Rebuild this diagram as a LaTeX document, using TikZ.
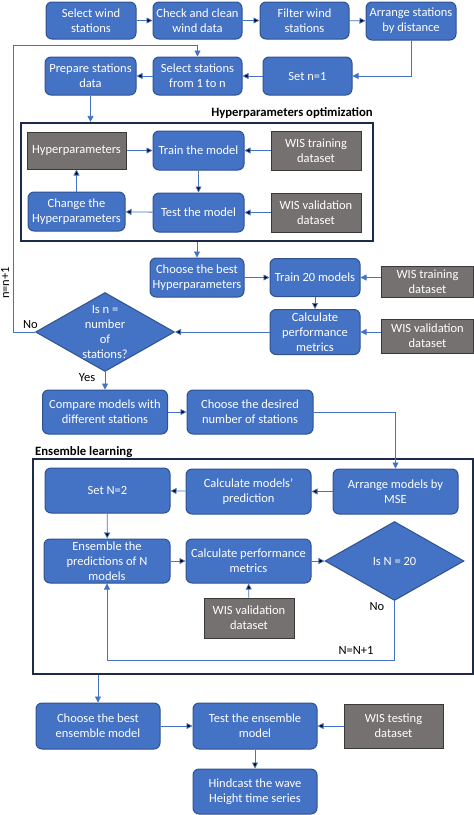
\documentclass[tikz,border=0pt]{standalone}
\usepackage{fontspec}
\setmainfont{Carlito}
\usetikzlibrary{arrows.meta,shapes.geometric,positioning}
\definecolor{boxblue}{HTML}{4472C4}
\definecolor{boxedge}{HTML}{2F528F}
\definecolor{datagray}{HTML}{767171}
\definecolor{dataedge}{HTML}{3B3838}
\definecolor{framenavy}{HTML}{1C2B4A}
\tikzset{
  wh/.style 2 args={minimum width=#1pt,minimum height=#2pt},
  process/.style={rectangle,rounded corners=6pt,draw=boxedge,fill=boxblue,
    line width=1pt,text=white,align=center,inner sep=1pt},
  dataset/.style={rectangle,draw=dataedge,fill=datagray,
    line width=1pt,text=white,align=center,inner sep=1pt},
  decision/.style={diamond,draw=boxedge,fill=boxblue,line width=1pt,
    text=white,align=center,inner sep=0pt,minimum width=139pt,minimum height=79pt},
  frame/.style={rectangle,draw=framenavy,line width=2.2pt},
  caption/.style={font=\fontsize{12.7}{15}\selectfont\bfseries,inner sep=0pt},
  note/.style={inner sep=0pt},
  flow/.style={draw=boxblue,line width=0.8pt,-{Triangle[length=6pt,width=6pt]}},
  chart/.style={x=1pt,y=-1pt,font=\fontsize{12.5}{15}\selectfont}
}
\begin{document}
\begin{tikzpicture}[chart]
  \useasboundingbox (0,0) rectangle (474,815);
  % stations
  \node[process,wh={90}{37}] (sel) at (91,20.5) {Select wind\\stations};
  \node[process,wh={89}{37}] (chk) at (197.5,20.5) {Check and clean\\wind data};
  \node[process,wh={89}{37}] (fil) at (304.5,20.5) {Filter wind\\stations};
  \node[process,wh={90}{38}] (arr) at (411,21) {Arrange stations\\by distance};
  \node[process,wh={91}{38}] (prep) at (90.5,76) {Prepare stations\\data};
  \node[process,wh={89}{38}] (selst) at (197.5,76) {Select stations\\from 1 to n};
  \node[process,wh={89}{38}] (setn) at (307.5,76) {Set n=1};
  % hyperparameters optimization
  \node[frame,wh={352}{118}] (hbox) at (197,182) {};
  \node[caption,anchor=base east] (htitle) at (373,116) {Hyperparameters optimization};
  \node[dataset,wh={99}{37}] (hyp) at (76.5,150.5) {Hyperparameters};
  \node[process,wh={91}{39}] (train) at (198.5,150.5) {Train the model};
  \node[dataset,wh={90}{39}] (wistr1) at (316,150.5) {WIS training\\dataset};
  \node[process,wh={97}{39}] (chg) at (76.5,211.5) {Change the\\Hyperparameters};
  \node[process,wh={91}{39}] (test) at (198.5,212.5) {Test the model};
  \node[dataset,wh={90}{39}] (wisv1) at (316,212.5) {WIS validation\\dataset};
  \node[process,wh={94}{39}] (best) at (197,277.5) {Choose the best\\Hyperparameters};
  \node[process,wh={90}{38}] (tr20) at (315,277.5) {Train 20 models};
  \node[dataset,wh={92}{31}] (wistr2) at (427.5,281.5) {WIS training\\dataset};
  \node[process,wh={90}{45}] (calc) at (315,332) {Calculate\\performance\\metrics};
  \node[dataset,wh={92}{34}] (wisv2) at (427.5,336) {WIS validation\\dataset};
  \node[decision,label={[text=white,align=center]center:Is n =\\number\\of\\stations?}] (isn) at (105,332) {};
  \node[note,anchor=south east] (nolbl) at (38,329) {No};
  \node[note,rotate=90] (inclbl) at (5,283) {n=n+1};
  \node[note] (yeslbl) at (87,378) {Yes};
  \node[process,wh={125}{44}] (cmp) at (105,412) {Compare models with\\different stations};
  \node[process,wh={126}{44}] (des) at (250,412) {Choose the desired\\number of stations};
  % ensemble learning
  \node[frame,wh={440}{215}] (ebox) at (253,566.5) {};
  \node[caption,anchor=base west] (etitle) at (35,455) {Ensemble learning};
  \node[process,wh={125}{45}] (setN) at (107.5,490.5) {Set N=2};
  \node[process,wh={125}{45}] (cpred) at (248.5,491.5) {Calculate models'\\prediction};
  \node[process,wh={125}{45}] (amse) at (395.5,491.5) {Arrange models by\\MSE};
  \node[process,wh={126}{44}] (ens) at (107,561) {Ensemble the\\predictions of N\\models};
  \node[process,wh={125}{44}] (cperf) at (248.5,561) {Calculate performance\\metrics};
  \node[decision] (isN) at (394.5,561) {Is N = 20};
  \node[dataset,wh={90}{40}] (wisv3) at (249,618) {WIS validation\\dataset};
  \node[note] (no2lbl) at (377,607) {No};
  \node[note] (inc2lbl) at (356,650) {N=N+1};
  % testing
  \node[process,wh={124}{46}] (cbest) at (98,726) {Choose the best\\ensemble model};
  \node[process,wh={124}{46}] (tens) at (255,726) {Test the ensemble\\model};
  \node[dataset,wh={99}{44}] (wistest) at (393.5,726) {WIS testing\\dataset};
  \node[process,wh={124}{45}] (hind) at (255,791.5) {Hindcast the wave\\Height time series};
  \coordinate (loop) at (13,45);
  \path[flow]
    (sel) edge (chk)
    (chk) edge (fil)
    (fil) edge (arr)
    (setn) edge (selst)
    (selst) edge (prep)
    (hyp) edge (train)
    (wistr1) edge (train)
    (train) edge (test)
    (wisv1) edge (test)
    (test) edge (chg)
    (chg) edge (hyp)
    (best) edge (tr20)
    (tr20) edge (calc)
    (calc) edge (isn)
    (cmp) edge (des)
    (amse) edge (cpred)
    (cpred) edge (setN)
    (setN) edge (ens)
    (ens) edge (cperf)
    (cperf) edge (isN)
    (wisv3) edge (cperf)
    (cbest) edge (tens)
    (wistest) edge (tens)
    (tens) edge (hind);
  \draw[flow] (arr.south) |- (setn.east);
  \draw[flow] (isn.west) -| (loop) -| (selst.north);
  \draw[flow] (prep.south) -- (prep.south |- hbox.north);
  \draw[flow] (best.north |- hbox.south) -- (best.north);
  \draw[flow] (wistr2.west |- tr20.east) -- (tr20.east);
  \draw[flow] (wisv2.west |- calc.east) -- (calc.east);
  \draw[flow] (isn.south) -- (cmp.north);
  \draw[flow] (des.east) -| (amse.north);
  \draw[flow] (isN.south) -- ++(0,59) -| (ens.south);
  \draw[flow] (cbest.north |- ebox.south) -- (cbest.north);
\end{tikzpicture}
\end{document}
